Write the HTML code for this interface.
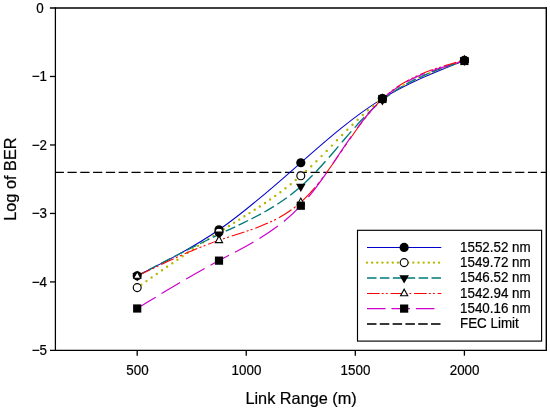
<!DOCTYPE html>
<html><head><meta charset="utf-8"><title>Log of BER vs Link Range</title>
<style>html,body{margin:0;padding:0;background:#fff}svg{display:block}text{font-family:"Liberation Sans",sans-serif;fill:#000;stroke:#000;stroke-width:.2px}</style>
</head><body>
<svg width="550" height="412" viewBox="0 0 550 412">
<rect width="550" height="412" fill="#fff"/>
<path d="M49.9 8H547" stroke="#000" stroke-width="1.5" fill="none"/>
<path d="M50 350.4H547" stroke="#000" stroke-width="1.25" fill="none"/>
<path d="M55.4 7.3V351" stroke="#000" stroke-width="1.25" fill="none"/>
<path d="M546.3 7.3V351" stroke="#000" stroke-width="1.4" fill="none"/>
<line x1="49.96" y1="76.48" x2="55.46" y2="76.48" stroke="#000" stroke-width="1.3"/>
<line x1="49.96" y1="144.96" x2="55.46" y2="144.96" stroke="#000" stroke-width="1.3"/>
<line x1="49.96" y1="213.44" x2="55.46" y2="213.44" stroke="#000" stroke-width="1.3"/>
<line x1="49.96" y1="281.92" x2="55.46" y2="281.92" stroke="#000" stroke-width="1.3"/>
<text transform="translate(40.00 12.80) scale(1 1.035)" font-size="13.4" text-anchor="middle">0</text>
<text transform="translate(39.30 81.28) scale(1 1.035)" font-size="13.4" text-anchor="middle">−1</text>
<text transform="translate(39.30 149.76) scale(1 1.035)" font-size="13.4" text-anchor="middle">−2</text>
<text transform="translate(39.30 218.24) scale(1 1.035)" font-size="13.4" text-anchor="middle">−3</text>
<text transform="translate(39.30 286.72) scale(1 1.035)" font-size="13.4" text-anchor="middle">−4</text>
<text transform="translate(39.30 355.20) scale(1 1.035)" font-size="13.4" text-anchor="middle">−5</text>
<line x1="137.20" y1="350.40" x2="137.20" y2="355.70" stroke="#000" stroke-width="1.3"/>
<text transform="translate(137.40 374.60) scale(1 1.035)" font-size="13.4" text-anchor="middle">500</text>
<line x1="246.25" y1="350.40" x2="246.25" y2="355.70" stroke="#000" stroke-width="1.3"/>
<text transform="translate(246.45 374.60) scale(1 1.035)" font-size="13.4" text-anchor="middle">1000</text>
<line x1="355.30" y1="350.40" x2="355.30" y2="355.70" stroke="#000" stroke-width="1.3"/>
<text transform="translate(355.50 374.60) scale(1 1.035)" font-size="13.4" text-anchor="middle">1500</text>
<line x1="464.40" y1="350.40" x2="464.40" y2="355.70" stroke="#000" stroke-width="1.3"/>
<text transform="translate(464.60 374.60) scale(1 1.035)" font-size="13.4" text-anchor="middle">2000</text>
<text transform="translate(301.10 404.10) scale(1 1.050)" font-size="16.3" text-anchor="middle">Link Range (m)</text>
<text transform="translate(16.40 179.10) rotate(-90) scale(1 1.050)" font-size="16.3" text-anchor="middle">Log of BER</text>
<line x1="55.46" y1="172.40" x2="546.30" y2="172.40" stroke="#000" stroke-width="1.2" stroke-dasharray="9.2 3.59" stroke-dashoffset="0.75"/>
<path d="M137.2 275.8C164.9 261.9 192.5 248 219 229.8C247.1 210.5 273.9 186.5 300.8 162.7C327.4 139.2 354.1 115.9 382.4 98.6C408.8 82.4 436.6 71.4 464.4 60.4" fill="none" stroke="#0000cc" stroke-width="1.05"/>
<path d="M141.3 284.7h0M146.5 281.1h0M151.6 277.5h0M156.8 273.9h0M162 270.3h0M167.1 266.8h0M172.3 263.2h0M177.4 259.7h0M182.6 256.2h0M187.7 252.7h0M192.9 249.3h0M198 245.8h0M203.2 242.4h0M208.3 239.1h0M213.5 235.7h0M218.6 232.5h0M223.8 229.2h0M228.9 226h0M234.1 222.8h0M239.2 219.6h0M244.4 216.3h0M249.5 213.1h0M254.7 209.8h0M259.8 206.5h0M265 203h0M270.1 199.5h0M275.2 195.9h0M280.4 192.2h0M285.5 188.3h0M290.7 184.3h0M295.8 180h0M301 175.6h0M306.1 171h0M311.3 166.2h0M316.4 161.2h0M321.6 156.1h0M326.7 150.9h0M331.9 145.6h0M337 140.3h0M342.2 135h0M347.3 129.8h0M352.5 124.7h0M357.6 119.7h0M362.8 114.9h0M367.9 110.3h0M373.1 106h0M378.2 101.8h0M383.4 98h0M388.5 94.4h0M393.7 91.1h0M398.8 88h0M404 85.1h0M409.1 82.4h0M414.3 79.9h0M419.4 77.5h0M424.6 75.3h0M429.7 73.1h0M434.9 71.1h0M440 69.1h0M445.2 67.2h0M450.3 65.3h0M455.5 63.5h0M460.6 61.7h0" fill="none" stroke="#b4b800" stroke-width="2.4" stroke-linecap="round"/>
<path d="M137.2 275.9C139.8 274.5 142.3 273.2 144.9 271.8M148.3 270C151.5 268.4 154.6 266.7 157.8 265.1M161.2 263.3C164.4 261.7 167.5 260.1 170.7 258.4M174.1 256.7C177.3 255.1 180.4 253.4 183.6 251.8M187 250.1C190.2 248.5 193.3 246.9 196.5 245.3M199.9 243.7C203.1 242.1 206.2 240.5 209.4 239M212.8 237.4C214.9 236.4 216.9 235.4 219 234.4C220.1 233.9 221.2 233.4 222.3 232.8M225.7 231.2C228.9 229.8 232 228.3 235.2 226.8M238.6 225.2C241.8 223.6 244.9 222.1 248.1 220.5M251.5 218.8C254.7 217.2 257.8 215.6 261 213.8M264.4 212C267.6 210.2 270.8 208.3 273.9 206.4M277.3 204.2C280.5 202.2 283.7 200 286.8 197.8M290.2 195.3C293.4 192.8 296.6 190.3 299.7 187.6M303.1 184.5C306.3 181.6 309.5 178.5 312.6 175.3M316 171.8C319.2 168.4 322.4 164.9 325.5 161.3M328.9 157.5C332.1 153.8 335.2 150.1 338.4 146.4M341.8 142.4C345 138.7 348.1 135 351.3 131.4M354.7 127.6C357.8 124 361 120.6 364.2 117.3M367.6 113.8C370.7 110.6 373.9 107.6 377.1 104.7M380.5 101.8C381.1 101.2 381.8 100.7 382.4 100.2C384.9 98.2 387.4 96.2 390 94.4M393.4 92C396.5 89.9 399.7 87.9 402.9 86M406.3 84.1C409.4 82.4 412.6 80.7 415.8 79.2M419.2 77.6C422.3 76.1 425.5 74.7 428.7 73.4M432.1 72C435.3 70.8 438.4 69.6 441.6 68.4M445 67.2C448.2 66 451.3 64.9 454.5 63.9M457.9 62.7C460.1 62 462.2 61.2 464.4 60.5" fill="none" stroke="#007a7a" stroke-width="1.35"/>
<path d="M137.6 275.8C141.8 273.8 146 271.7 150.2 269.7M152.4 268.7C153 268.4 153.7 268.1 154.3 267.8M156.4 266.8C157 266.5 157.7 266.2 158.3 265.9M161.2 264.5C165.3 262.5 169.5 260.6 173.7 258.7M175.9 257.7C176.6 257.4 177.2 257.1 177.8 256.8M179.9 255.9C180.6 255.6 181.2 255.3 181.9 255M184.7 253.8C188.9 252 193.1 250.2 197.3 248.5M199.5 247.6C200.1 247.3 200.8 247.1 201.4 246.8M203.5 246C204.1 245.8 204.8 245.5 205.4 245.3M208.2 244.2C211.8 242.8 215.4 241.5 219 240.3C219.6 240.1 220.2 239.9 220.8 239.7M223.1 238.9C223.7 238.7 224.3 238.5 224.9 238.3M227.1 237.6C227.7 237.4 228.3 237.2 229 237M231.8 236.1C236 234.7 240.2 233.4 244.4 232M246.6 231.3C247.2 231 247.9 230.8 248.5 230.6M250.6 229.9C251.2 229.7 251.9 229.4 252.5 229.2M255.3 228.2C259.6 226.6 263.8 225 267.9 223.1M270.1 222.1C270.8 221.8 271.4 221.5 272 221.2M274.1 220.2C274.8 219.9 275.4 219.6 276 219.2M278.9 217.7C283.2 215.4 287.4 212.8 291.5 209.8M293.7 208.2C294.3 207.7 295 207.2 295.6 206.7M297.7 205C298.3 204.5 299 204 299.6 203.4M302.4 200.8C306.8 196.8 311 192.3 315.1 187.4M317.2 184.8C317.9 184 318.5 183.2 319.1 182.4M321.3 179.7C321.9 178.9 322.5 178.1 323.1 177.2M326 173.4C330.3 167.6 334.4 161.6 338.6 155.5M340.8 152.3C341.4 151.4 342.1 150.4 342.7 149.5M344.8 146.4C345.4 145.5 346.1 144.6 346.7 143.7M349.6 139.5C353.7 133.5 357.9 127.6 362.2 122M364.4 119.1C365 118.3 365.6 117.5 366.2 116.7M368.4 114.1C369 113.3 369.6 112.5 370.2 111.8M373.1 108.5C376.1 105 379.2 101.8 382.4 98.8C383.5 97.8 384.6 96.8 385.7 95.8M387.9 93.9C388.5 93.4 389.2 92.9 389.8 92.4M391.9 90.8C392.5 90.3 393.2 89.8 393.8 89.3M396.6 87.3C400.8 84.5 405 82 409.2 79.7M411.4 78.6C412.1 78.3 412.7 78 413.3 77.6M415.4 76.6C416.1 76.3 416.7 76.1 417.3 75.8M420.2 74.5C424.4 72.7 428.6 71.1 432.8 69.6M435 68.9C435.6 68.6 436.3 68.4 436.9 68.2M439 67.5C439.6 67.3 440.3 67.1 440.9 66.9M443.8 66.1C447.9 64.8 452.1 63.6 456.3 62.4M458.5 61.8C459.2 61.6 459.8 61.5 460.4 61.3M462.6 60.7C463.2 60.5 463.8 60.4 464.4 60.2" fill="none" stroke="#ff0000" stroke-width="1.1"/>
<path d="M137.2 308.5C143.4 304.7 149.5 301 155.7 297.2M161.6 293.6C167.8 289.9 174 286.2 180.1 282.6M186.1 279.1C192.2 275.5 198.4 272 204.6 268.5M210.5 265.2C213.4 263.7 216.2 262.2 219 260.6C222.3 258.9 225.7 257.1 229 255.3M235 252.2C241.2 248.9 247.4 245.6 253.5 242M259.4 238.5C265.7 234.7 271.9 230.6 277.9 226.1M283.9 221.5C289.7 216.7 295.4 211.5 300.8 205.7C301.3 205.1 301.9 204.5 302.4 204M308.4 197.1C314.7 189.4 320.8 181 326.9 172.3M332.8 163.6C339 154.4 345.1 145.2 351.3 136.3M357.2 128C363.2 119.9 369.3 112.3 375.8 105.5M381.7 99.6C381.9 99.4 382.2 99.2 382.4 99C388.1 93.8 394.1 89.3 400.2 85.5M406.1 82C412.2 78.7 418.4 75.9 424.6 73.4M430.6 71.2C436.7 69 442.9 67.1 449.1 65.3M455 63.6C458.2 62.7 461.3 61.8 464.4 61" fill="none" stroke="#cc00cc" stroke-width="1.2"/>
<circle cx="137.20" cy="275.80" r="4.6" fill="#000"/>
<circle cx="219.00" cy="229.80" r="4.6" fill="#000"/>
<circle cx="300.80" cy="162.74" r="4.6" fill="#000"/>
<circle cx="382.40" cy="98.60" r="4.6" fill="#000"/>
<circle cx="464.40" cy="60.40" r="4.6" fill="#000"/>
<circle cx="137.20" cy="287.60" r="3.95" fill="#fff" stroke="#000" stroke-width="1.15"/>
<circle cx="219.00" cy="232.20" r="3.95" fill="#fff" stroke="#000" stroke-width="1.15"/>
<circle cx="300.80" cy="175.80" r="3.95" fill="#fff" stroke="#000" stroke-width="1.15"/>
<circle cx="382.40" cy="98.70" r="3.95" fill="#fff" stroke="#000" stroke-width="1.15"/>
<circle cx="464.40" cy="60.40" r="3.95" fill="#fff" stroke="#000" stroke-width="1.15"/>
<path d="M132.40 273.07h9.6l-4.8 8.2z" fill="#000"/>
<path d="M214.20 231.62h9.6l-4.8 8.2z" fill="#000"/>
<path d="M296.00 183.82h9.6l-4.8 8.2z" fill="#000"/>
<path d="M377.60 97.42h9.6l-4.8 8.2z" fill="#000"/>
<path d="M459.60 57.72h9.6l-4.8 8.2z" fill="#000"/>
<path d="M140.80 278.30h-7.2l3.6 -6.6z" fill="#fff" stroke="#000" stroke-width="1.1"/>
<path d="M222.60 242.60h-7.2l3.6 -6.6z" fill="#fff" stroke="#000" stroke-width="1.1"/>
<path d="M304.40 204.65h-7.2l3.6 -6.6z" fill="#fff" stroke="#000" stroke-width="1.1"/>
<path d="M386.00 101.10h-7.2l3.6 -6.6z" fill="#fff" stroke="#000" stroke-width="1.1"/>
<path d="M468.00 62.50h-7.2l3.6 -6.6z" fill="#fff" stroke="#000" stroke-width="1.1"/>
<rect x="133.10" y="304.40" width="8.2" height="8.2" fill="#000"/>
<rect x="214.90" y="256.55" width="8.2" height="8.2" fill="#000"/>
<rect x="296.70" y="201.60" width="8.2" height="8.2" fill="#000"/>
<rect x="378.30" y="94.90" width="8.2" height="8.2" fill="#000"/>
<rect x="460.30" y="56.90" width="8.2" height="8.2" fill="#000"/>
<rect x="357.5" y="230.3" width="184.1" height="110.8" fill="#fff" stroke="#000" stroke-width="1.15"/>
<line x1="367.0" y1="247.45" x2="441.3" y2="247.45" stroke="#0000cc" stroke-width="1.15"/>
<circle cx="404.15" cy="247.45" r="4.6" fill="#000"/>
<text transform="translate(460.00 252.10) scale(1 1.035)" font-size="13.4">1552.52 nm</text>
<line x1="367.0" y1="262.60" x2="440.2" y2="262.60" stroke="#b4b800" stroke-width="2.4" stroke-dasharray="0 5.15" stroke-linecap="round"/>
<circle cx="404.15" cy="262.60" r="3.95" fill="#fff" stroke="#000" stroke-width="1.15"/>
<text transform="translate(460.00 267.24) scale(1 1.035)" font-size="13.4">1549.72 nm</text>
<line x1="367.0" y1="278.00" x2="441.0" y2="278.00" stroke="#007a7a" stroke-width="1.7" stroke-dasharray="9.5 3.4"/>
<path d="M399.35 275.22h9.6l-4.8 8.2z" fill="#000"/>
<text transform="translate(460.00 282.38) scale(1 1.035)" font-size="13.4">1546.52 nm</text>
<line x1="367.0" y1="293.45" x2="441.3" y2="293.45" stroke="#ff0000" stroke-width="1.15" stroke-dasharray="12.6 2.2 1.9 2.1 1.9 2.85"/>
<path d="M407.75 295.75h-7.2l3.6 -6.6z" fill="#fff" stroke="#000" stroke-width="1.1"/>
<text transform="translate(460.00 297.52) scale(1 1.035)" font-size="13.4">1542.94 nm</text>
<line x1="367.0" y1="308.60" x2="440.0" y2="308.60" stroke="#cc00cc" stroke-width="1.4" stroke-dasharray="18.5 5.95"/>
<rect x="400.05" y="304.50" width="8.2" height="8.2" fill="#000"/>
<text transform="translate(460.00 312.66) scale(1 1.035)" font-size="13.4">1540.16 nm</text>
<line x1="367.0" y1="324.00" x2="440.6" y2="324.00" stroke="#383838" stroke-width="1.8" stroke-dasharray="9.5 3.3"/>
<text transform="translate(460.00 327.80) scale(1 1.035)" font-size="13.4">FEC Limit</text>
</svg></body></html>
